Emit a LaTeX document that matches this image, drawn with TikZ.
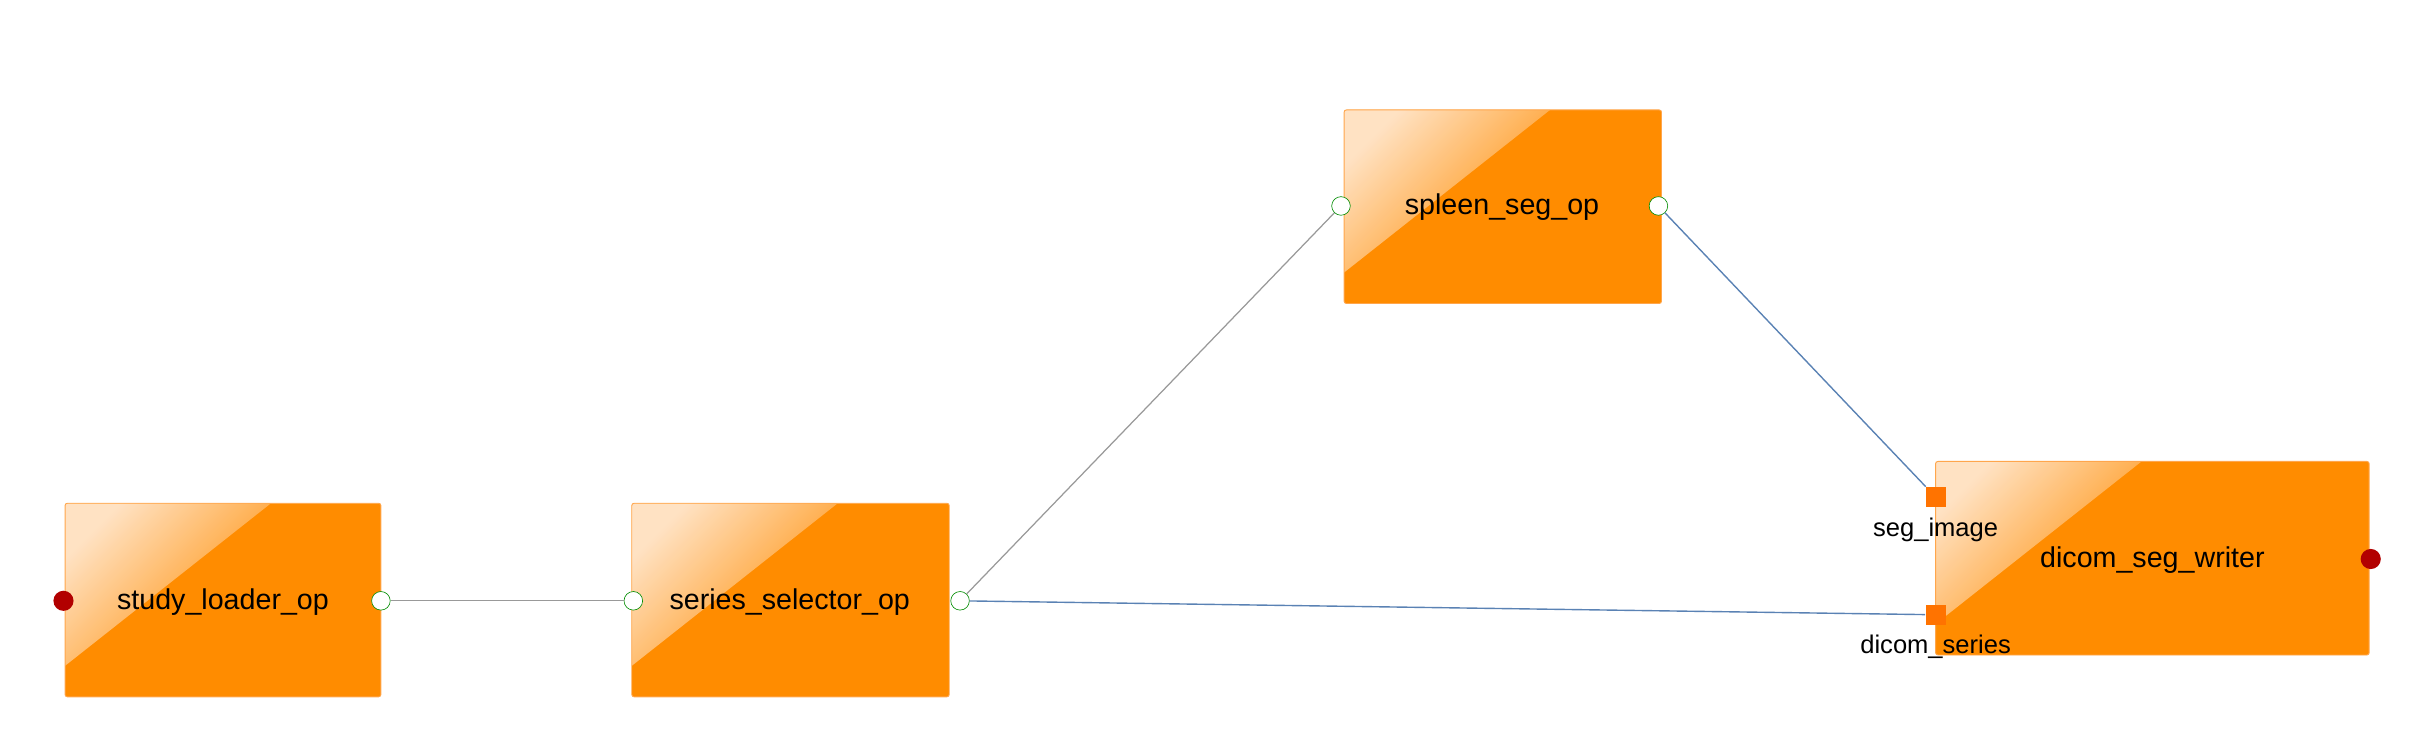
\documentclass[tikz,border=0pt]{standalone}
\usepackage{fontspec}
\setmainfont{Liberation Sans}
\begin{document}
\begin{tikzpicture}[x=1pt,y=-1pt,
  lbl/.style={font=\fontsize{18.5}{22}\selectfont},
  plbl/.style={font=\fontsize{16.5}{20}\selectfont},
  wire/.style={draw=black!40,line width=0.8pt},
  bwire/.style={draw={rgb,255:red,90;green,130;blue,180},line width=0.9pt},
  port/.style={circle,draw=green!55!black,fill=white,inner sep=0pt,minimum size=12pt},
  red/.style={circle,fill=red!70!black,inner sep=0pt,minimum size=13pt},
  sq/.style={rectangle,fill=orange!90!red,inner sep=0pt,minimum size=13pt}]
\useasboundingbox (0,0) rectangle (1568,476);
\definecolor{org}{RGB}{255,140,0}
\newcommand{\opbox}[5]{% name x1 y1 x2 y2
  \fill[org,rounded corners=1.5pt] (#2,#3) rectangle (#4,#5);
  \shade[left color=white!85!orange,right color=org,shading angle=45,opacity=0.9]
    (#2,#3) -- (#2+133,#3) -- (#2,#3+105) -- cycle;
  \draw[orange!70,line width=0.6pt,rounded corners=1.5pt] (#2,#3) rectangle (#4,#5);
  \node[inner sep=0pt] (#1) at ({(#2+#4)/2},{(#3+#5)/2}) {};
}
\opbox{A}{42}{325}{246}{450}
\opbox{B}{408}{325}{613}{450}
\opbox{C}{868}{71}{1073}{196}
\opbox{D}{1250}{298}{1530}{423}
\node[lbl] at (144,389) {study\_loader\_op};
\node[lbl] at (510,389) {series\_selector\_op};
\node[lbl] at (970,134) {spleen\_seg\_op};
\node[lbl] at (1390,362) {dicom\_seg\_writer};
\node[red] (Ain) at (41,388) {};
\node[port] (Aout) at (246,388) {};
\node[port] (Bin) at (409,388) {};
\node[port] (Bout) at (620,388) {};
\node[port] (Cin) at (866,133) {};
\node[port] (Cout) at (1071,133) {};
\node[red] (Dout) at (1531,361) {};
\node[sq] (Dseg) at (1250,321) {};
\node[sq] (Ddic) at (1250,397) {};
\node[plbl] at (1250,342) {seg\_image};
\node[plbl] at (1250,418) {dicom\_series};
\draw[wire] (Aout) -- (Bin);
\draw[wire] (Bout) -- (Cin);
\draw[bwire] (Cout) -- (Dseg);
\draw[bwire] (Bout) -- (Ddic);
\end{tikzpicture}
\end{document}
